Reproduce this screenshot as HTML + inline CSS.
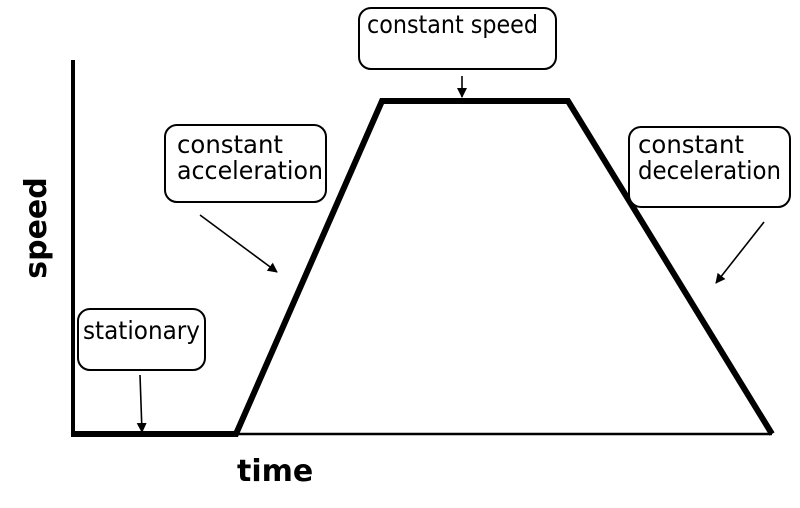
<!DOCTYPE html>
<html><head><style>body{margin:0;background:#fff}svg{display:block}</style></head><body>
<svg width="800" height="508" viewBox="0 0 800 508" xmlns="http://www.w3.org/2000/svg" font-family="'DejaVu Sans','Liberation Sans',sans-serif">
<defs><marker id="a" markerWidth="10" markerHeight="10" refX="9" refY="5" orient="auto" markerUnits="userSpaceOnUse"><path d="M0,0 L10,5 L0,10 z" fill="#000"/></marker></defs>
<line x1="73" y1="60" x2="73" y2="436" stroke="#000" stroke-width="4"/>
<line x1="236" y1="434" x2="772" y2="434" stroke="#000" stroke-width="2.5"/>
<polyline points="71,434 236,434 382,101 568,101 772,434" fill="none" stroke="#000" stroke-width="6" stroke-linejoin="miter"/>
<g fill="#fff" stroke="#000" stroke-width="2">
<rect x="359" y="8" width="197" height="61" rx="12"/>
<rect x="165" y="125" width="161" height="77" rx="12"/>
<rect x="629" y="127" width="161" height="80" rx="12"/>
<rect x="78" y="309" width="127" height="61" rx="12"/>
</g>
<g stroke="#000" stroke-width="1.6" marker-end="url(#a)">
<line x1="462" y1="76" x2="462" y2="97"/>
<line x1="200" y1="215" x2="277" y2="272"/>
<line x1="764" y1="222" x2="716" y2="283"/>
<line x1="140" y1="375" x2="142" y2="432"/>
</g>
<g font-size="24.5" fill="#000">
<text x="367" y="33" textLength="171" lengthAdjust="spacingAndGlyphs">constant speed</text>
<text x="177" y="153" textLength="106" lengthAdjust="spacingAndGlyphs">constant</text>
<text x="177" y="179" textLength="146" lengthAdjust="spacingAndGlyphs">acceleration</text>
<text x="638" y="153" textLength="106" lengthAdjust="spacingAndGlyphs">constant</text>
<text x="638" y="179" textLength="143" lengthAdjust="spacingAndGlyphs">deceleration</text>
<text x="83" y="339" textLength="117" lengthAdjust="spacingAndGlyphs">stationary</text>
</g>
<text x="237" y="481" font-size="30" font-weight="bold">time</text>
<text transform="translate(46,228) rotate(-90)" text-anchor="middle" font-size="30" font-weight="bold">speed</text>
</svg>
</body></html>
